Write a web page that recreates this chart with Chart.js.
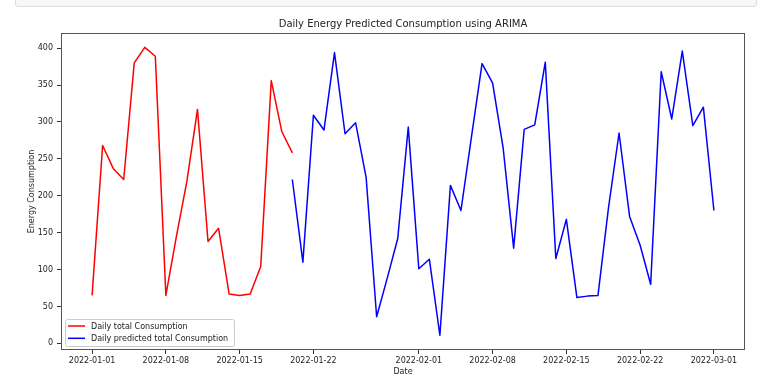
<!DOCTYPE html>
<html>
<head>
<meta charset="utf-8">
<script src="https://cdn.jsdelivr.net/npm/chart.js@4.4.1/dist/chart.umd.min.js"></script>
<style>
  body { margin: 0; background: #fff; }
  #wrap { position: relative; width: 769px; height: 385px; }
  #cell { position: absolute; left: 15px; top: -6px; width: 740px; height: 11px;
          background: #f7f7f7; border: 1px solid #dcdcdc; border-radius: 3px; z-index: 2; }
</style>
</head>
<body>
<div id="wrap">
  <div id="cell"></div>
  <canvas id="chart"></canvas>
</div>
<script>
// Data
const startDate = "2022-01-01";
const actualLabel = "Daily total Consumption";
const predictedLabel = "Daily predicted total Consumption";
const actualValues = [65, 268, 237, 222, 380, 401, 389, 65, 145, 220, 317, 138, 156, 67, 65, 67, 104, 356, 287, 258];
const predictedValues = [222, 110, 309, 289, 394, 284, 299, 225, 36, 88, 142, 293, 101, 114, 11, 214, 180, 280, 379, 353,
  265, 129, 290, 296, 381, 115, 168, 62, 64, 65, 184, 285, 172, 133, 80, 368, 304, 396, 295, 320, 180];
const predictedStartDay = 19; // 2022-01-20
const xTickLabels = ["2022-01-01", "2022-01-08", "2022-01-15", "2022-01-22", "2022-02-01", "2022-02-08", "2022-02-15", "2022-02-22", "2022-03-01"];
const yTickValues = [0, 50, 100, 150, 200, 250, 300, 350, 400];

// day offset from start date
function dayOf(str) {
  return Math.round((Date.parse(str) - Date.parse(startDate)) / 86400000);
}
const xTickDays = xTickLabels.map(dayOf);

const actualPoints = actualValues.map((v, i) => ({ x: i, y: v }));
const predictedPoints = predictedValues.map((v, i) => ({ x: predictedStartDay + i, y: v }));

const FONT = "'DejaVu Sans', sans-serif";

// Frame around plot (all four spines)
const framePlugin = {
  id: "frame",
  afterDraw(chart) {
    const { ctx, chartArea: a } = chart;
    ctx.save();
    ctx.strokeStyle = "#555";
    ctx.lineWidth = 1;
    ctx.strokeRect(Math.round(a.left) + 0.5, Math.round(a.top) + 0.5,
      Math.round(a.right - a.left) - 1, Math.round(a.bottom - a.top) - 1);
    ctx.restore();
  },
};

// Legend inside lower-left corner
const innerLegend = {
  id: "innerLegend",
  afterDraw(chart) {
    const { ctx, chartArea: a } = chart;
    const x = a.left + 4, w = 169, h = 27;
    const y = a.bottom - 4 - h;
    ctx.save();
    ctx.fillStyle = "rgba(255,255,255,0.8)";
    ctx.strokeStyle = "#cccccc";
    ctx.lineWidth = 1;
    ctx.beginPath();
    ctx.roundRect(x + 0.5, y + 0.5, w, h, 2);
    ctx.fill();
    ctx.stroke();
    ctx.font = "8px " + FONT;
    ctx.textBaseline = "middle";
    chart.data.datasets.forEach((ds, i) => {
      const cy = y + 7 + i * 12.3;
      ctx.strokeStyle = ds.borderColor;
      ctx.lineWidth = 1.5;
      ctx.beginPath();
      ctx.moveTo(x + 3, cy);
      ctx.lineTo(x + 20, cy);
      ctx.stroke();
      ctx.fillStyle = "#222";
      ctx.fillText(ds.label, x + 26, cy + 0.5);
    });
    ctx.restore();
  },
};

new Chart(document.getElementById("chart"), {
  type: "line",
  data: {
    datasets: [
      { label: actualLabel, data: actualPoints, borderColor: "#ff0000", borderWidth: 1.5, borderJoinStyle: "round", pointRadius: 0, tension: 0, fill: false },
      { label: predictedLabel, data: predictedPoints, borderColor: "#0000ff", borderWidth: 1.5, borderJoinStyle: "round", pointRadius: 0, tension: 0, fill: false },
    ],
  },
  options: {
    responsive: true,
    maintainAspectRatio: false,
    animation: false,
    layout: { padding: { left: 0, right: 24, top: 0, bottom: 0 } },
    plugins: {
      legend: { display: false },
      tooltip: { enabled: false },
      title: {
        display: true,
        fullSize: false,
        text: "Daily Energy Predicted Consumption using ARIMA",
        color: "#222",
        font: { family: FONT, size: 10, weight: "normal", lineHeight: 1.2 },
        padding: { top: 18, bottom: 3 },
      },
    },
    scales: {
      x: {
        type: "linear",
        min: -2.95,
        max: 61.95,
        afterBuildTicks: (scale) => { scale.ticks = xTickDays.map((v) => ({ value: v })); },
        afterFit: (scale) => { scale.height = 35; },
        ticks: {
          autoSkip: false,
          maxRotation: 0,
          padding: 2,
          color: "#222",
          font: { family: FONT, size: 8 },
          callback: (v) => xTickLabels[xTickDays.indexOf(v)] || "",
        },
        grid: { drawOnChartArea: false, drawTicks: true, tickLength: 4, color: "#333" },
        border: { display: false },
        title: { display: true, text: "Date", color: "#222", font: { family: FONT, size: 8 }, padding: { top: 0, bottom: 8 } },
      },
      y: {
        min: -9,
        max: 420.5,
        afterBuildTicks: (scale) => { scale.ticks = yTickValues.map((v) => ({ value: v })); },
        afterFit: (scale) => { scale.width = 61; },
        ticks: { padding: 4, color: "#222", font: { family: FONT, size: 8 } },
        grid: { drawOnChartArea: false, drawTicks: true, tickLength: 4, color: "#333" },
        border: { display: false },
        title: { display: true, text: "Energy Consumption", color: "#222", font: { family: FONT, size: 8 }, padding: { top: 27, bottom: 0 } },
      },
    },
  },
  plugins: [framePlugin, innerLegend],
});
</script>
</body>
</html>
